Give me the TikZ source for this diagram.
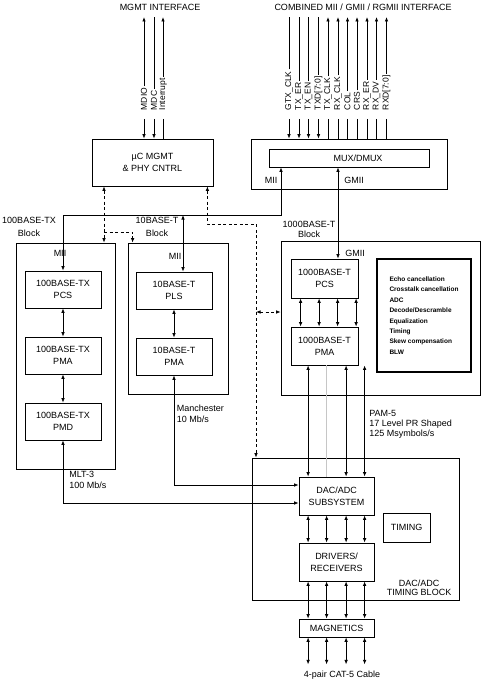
\documentclass[tikz,border=0pt]{standalone}
\usepackage{fontspec}
\setmainfont{Liberation Sans}
\usetikzlibrary{arrows.meta}

\begin{document}
\begin{tikzpicture}[x=1pt, y=-1pt, line width=0.8pt,
  phybox/.style={draw, inner sep=1pt, align=center, font=\fontsize{9}{12}\selectfont},
  dspbox/.style={phybox, line width=2pt, align=left, font=\bfseries\fontsize{6.5}{10.4}\selectfont},
  lbl/.style={inner sep=1pt, align=center, font=\fontsize{9}{13}\selectfont},
  sig/.style={rotate=90, anchor=west, inner sep=1.5pt, font=\fontsize{8.5}{10}\selectfont},
  arr/.style={-{Latex[length=4.5pt, width=3.6pt]}},
  biarr/.style={{Latex[length=4.5pt, width=3.6pt]}-{Latex[length=4.5pt, width=3.6pt]}},
  dashline/.style={dash pattern=on 3pt off 2.5pt}]

\useasboundingbox (0,0) rectangle (482,682);

%─────────────
% Controls
%─────────────
\def\sigY{112}  % Bottom end of the rotated signal names
\def\topY{17}   % Top end of the interface lines

%───────────────────────────────────────────────────────
% Command to draw a block from its corners
% #2 = name, (#3,#4) = top left, (#5,#6) = bottom right
%───────────────────────────────────────────────────────
\newcommand{\drawPhyBox}[7][phybox]{%
  \node[#1, minimum width={(#5-#3)*1pt}, minimum height={(#6-#4)*1pt}]
    (#2) at ({(#3+#5)/2},{(#4+#6)/2}) {#7};
}

%─────────────
% Interface headers
%─────────────
\node[lbl] (mgmtHead) at (160,7) {MGMT INTERFACE};
\node[lbl] (miiHead) at (363,7) {COMBINED MII / GMII / RGMII INTERFACE};

%─────────────
% Management and MUX
%─────────────
\drawPhyBox{mgmt}{92}{139}{213}{186}{µC MGMT\\\& PHY CNTRL}
\drawPhyBox{muxOuter}{251}{139}{447}{189}{}
\drawPhyBox{mux}{269}{149}{429}{167}{}
\node[lbl] (muxText) at (358,158) {MUX/DMUX};
\node[lbl] (muxMii) at (271,180) {MII};
\node[lbl] (muxGmii) at (354,180) {GMII};

%─────────────
% 100BASE-TX
%─────────────
\drawPhyBox{txBlock}{16}{243}{115}{469}{}
\node[lbl] (txBlockLbl) at (29,227) {100BASE-TX\\Block};
\node[lbl] (txMii) at (60,253) {MII};
\drawPhyBox{txPcs}{25}{271}{101}{308}{100BASE-TX\\PCS}
\drawPhyBox{txPma}{25}{337}{101}{374}{100BASE-TX\\PMA}
\drawPhyBox{txPmd}{25}{403}{101}{440}{100BASE-TX\\PMD}

%─────────────
% 10BASE-T
%─────────────
\drawPhyBox{tenBlock}{128}{243}{228}{394}{}
\node[lbl] (tenBlockLbl) at (157,227) {10BASE-T\\Block};
\node[lbl] (tenMii) at (175,256) {MII};
\drawPhyBox{tenPls}{136}{272}{212}{309}{10BASE-T\\PLS}
\drawPhyBox{tenPma}{136}{338}{212}{375}{10BASE-T\\PMA}

%─────────────
% 1000BASE-T
%─────────────
\drawPhyBox{gigBlock}{281}{241}{480}{395}{}
\node[lbl, font=\fontsize{9}{10}\selectfont] (gigBlockLbl) at (309,229.5) {1000BASE-T\\Block};
\node[lbl] (gigGmii) at (355,253) {GMII};
\drawPhyBox{gigPcs}{291}{259}{358}{298}{1000BASE-T\\PCS}
\drawPhyBox{gigPma}{291}{327}{358}{365}{1000BASE-T\\PMA}
\drawPhyBox[dspbox]{dsp}{377}{259}{471}{372}{Echo cancellation\\Crosstalk cancellation\\ADC\\Decode/Descramble\\Equalization\\Timing\\Skew compensation\\BLW}

%─────────────
% DAC/ADC and line side
%─────────────
\drawPhyBox{dacBlock}{252}{458}{459}{600}{}
\node[lbl, font=\fontsize{9}{9.5}\selectfont] (dacBlockLbl) at (419,588) {DAC/ADC\\TIMING BLOCK};
\drawPhyBox{dac}{299}{477}{374}{515}{DAC/ADC\\SUBSYSTEM}
\drawPhyBox{timing}{383}{513}{430}{542}{TIMING}
\drawPhyBox{drv}{299}{543}{374}{581}{DRIVERS/\\RECEIVERS}
\drawPhyBox{mag}{299}{619}{374}{637}{MAGNETICS}
\node[lbl] (cableLbl) at (342,675) {4-pair CAT-5 Cable};

% line codes
\node[lbl, align=left, anchor=north west, font=\fontsize{9}{10.7}\selectfont] (manLbl) at (175.5,404) {Manchester\\10 Mb/s};
\node[lbl, align=left, anchor=north west, font=\fontsize{9}{10.7}\selectfont] (mltLbl) at (68,470) {MLT-3\\100 Mb/s};
\node[lbl, align=left, anchor=north west, font=\fontsize{9}{10}\selectfont] (pamLbl) at (368,409) {PAM-5\\17 Level PR Shaped\\125 Msymbols/s};

%─────────────
% Management signals
%─────────────
\foreach \lbl/\xx [count=\i] in {MDIO/144, MDC/154, Interrupt/163}{
  \node[sig] (mgmtSig\i) at (\xx,\sigY) {\lbl};
  \coordinate (mgmtTop\i) at (\xx,\topY);
}
\draw[arr] (mgmtSig1.east) -- (mgmtTop1);
\draw[arr, shorten <=7pt] (mgmtSig1.west) -- (mgmtSig1.west |- mgmt.north);
\draw (mgmtSig2.east) -- (mgmtTop2);
\draw[arr, shorten <=7pt] (mgmtSig2.west) -- (mgmtSig2.west |- mgmt.north);
\draw[arr] (mgmtSig3.east) -- (mgmtTop3);
\draw[shorten <=7pt] (mgmtSig3.west) -- (mgmtSig3.west |- mgmt.north);

%─────────────
% MII / GMII signals (transmit in, receive out)
%─────────────
\foreach \lbl/\xx [count=\i] in {GTX\_CLK/289, TX\_ER/299, TX\_EN/308.5, TXD[7:0]/318.5}{
  \node[sig] (txSig\i) at (\xx,\sigY) {\lbl};
  \coordinate (txTop\i) at (\xx,\topY);
  \draw (txSig\i.east) -- (txTop\i);
  \draw[arr, shorten <=7pt] (txSig\i.west) -- (txSig\i.west |- muxOuter.north);
}
\foreach \lbl/\xx [count=\i] in {TX\_CLK/328, RX\_CLK/338, COL/347.5, CRS/357, RX\_ER/367, RX\_DV/376.5, RXD[7:0]/386.5}{
  \node[sig] (rxSig\i) at (\xx,\sigY) {\lbl};
  \coordinate (rxTop\i) at (\xx,\topY);
  \draw[arr] (rxSig\i.east) -- (rxTop\i);
  \draw[shorten <=7pt] (rxSig\i.west) -- (rxSig\i.west |- muxOuter.north);
}

%─────────────
% MII bus and GMII
%─────────────
\coordinate (miiTap) at (281,215);
\coordinate (plsTap) at (183,215);
\coordinate (gmiiTap) at (338,0);
\draw[biarr] (txPcs.north) |- (miiTap) -- (miiTap |- mux.south);
\draw[biarr] (plsTap) -- (plsTap |- tenPls.north);
\draw[biarr] (gmiiTap |- mux.south) -- (gmiiTap |- gigPcs.north);

% inside the 100BASE-TX and 10BASE-T blocks
\draw[biarr] (txPcs.south) -- (txPma.north);
\draw[biarr] (txPma.south) -- (txPmd.north);
\draw[biarr] (tenPls.south) -- (tenPma.north);
\draw[biarr] (txPmd.south) |- ([yshift=-7pt]dac.west);
\draw[biarr] (tenPma.south) |- ([yshift=11pt]dac.west);

%─────────────
% Four pair lanes
%─────────────
\foreach \dx [count=\i] in {10, 28.5, 47, 65.5}
  \coordinate (gigLane\i) at ([xshift=\dx pt]gigPcs.south west);
\foreach \i in {1,...,4}
  \draw[biarr] (gigLane\i) -- (gigLane\i |- gigPma.north);

\foreach \dx [count=\i] in {9.5, 28, 47.5, 66}
  \coordinate (lane\i) at ([xshift=\dx pt]dac.north west);
\draw[biarr] (lane1 |- gigPma.south) -- (lane1 |- dac.north);
\draw[gray!45, line width=1.2pt] (lane2 |- gigPma.south) -- (lane2 |- dac.north);
\draw[biarr] (lane3 |- gigPma.south) -- (lane3 |- dac.north);
\draw[biarr] (lane4 |- gigPma.south) -- (lane4 |- dac.north);
\foreach \i in {1,...,4}{
  \draw[biarr] (lane\i |- dac.south) -- (lane\i |- drv.north);
  \draw[biarr] (lane\i |- drv.south) -- (lane\i |- mag.north);
  \draw[biarr, shorten >=5pt] (lane\i |- mag.south) -- (lane\i |- cableLbl.north);
}

%─────────────
% Management paths (dashed)
%─────────────
\coordinate (dashA) at (104,232);
\coordinate (dashB) at (256,224);
\coordinate (dashC) at (256,312);
\draw[dashline, biarr] (dashA |- mgmt.south) -- (dashA |- txBlock.north);
\draw[dashline, arr] (dashA) -| ([xshift=5pt]tenBlock.north west);
\draw[dashline, biarr] ([xshift=-6pt]mgmt.south east) |- (dashB) -- (dashB |- dacBlock.north);
\draw[dashline, biarr] (dashC) -- (dashC -| gigBlock.west);

\end{tikzpicture}
\end{document}
